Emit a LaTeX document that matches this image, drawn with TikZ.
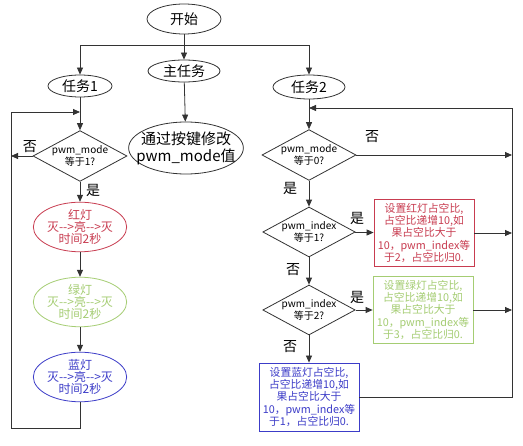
\documentclass[tikz,border=0pt]{standalone}
\usepackage{fontspec}
\setmainfont{Noto Sans CJK SC}
\usetikzlibrary{shapes.geometric,arrows.meta}
\definecolor{lampred}{RGB}{200,60,80}
\definecolor{lampgreen}{RGB}{165,205,115}
\definecolor{lampblue}{RGB}{60,60,200}
\begin{document}
\begin{tikzpicture}[x=1pt,y=-1pt,
    term/.style={ellipse,draw,inner sep=0pt,align=center,font=\fontsize{14}{15}\selectfont},
    cond/.style={diamond,draw,aspect=1.85,inner sep=0pt,minimum width=90pt,minimum height=49pt,align=center,font=\fontsize{10}{10.5}\selectfont},
    lamp/.style={ellipse,draw=#1,text=#1,inner sep=0pt,minimum width=92pt,minimum height=44pt,align=center,font=\fontsize{12}{12}\selectfont},
    act/.style={rectangle,draw=#1,text=#1,inner sep=0pt,minimum width=100pt,minimum height=67pt,align=center,font=\fontsize{10.8}{12.3}\selectfont},
    lbl/.style={font=\fontsize{14}{14}\selectfont},
    flow/.style={-{Triangle[length=7pt,width=6pt]}},
    line width=0.8pt, draw=black!80
]
    \useasboundingbox[fill=white] (0,0) rectangle (523,446);

    % Start and the three tasks
    \node[term,minimum width=74pt,minimum height=30pt] (start) at (184,19) {开始};
    \coordinate (split) at (184,45);
    \node[term,minimum width=64pt,minimum height=22pt] (task1) at (80,86) {任务1};
    \node[term,minimum width=72pt,minimum height=22pt] (main) at (184,71) {主任务};
    \node[term,minimum width=72pt,minimum height=24pt] (task2) at (309,87) {任务2};
    \draw (start) -- (split);
    \draw[flow] (split) -| (task1);
    \draw[flow] (split) -- (main);
    \draw[flow] (split) -| (task2);

    % Main task
    \node[term,inner xsep=-9pt,inner ysep=0pt,minimum width=103pt,minimum height=52pt,font=\fontsize{15}{17}\selectfont] (modify) at (186,148) {通过按键修改\\pwm\_mode值};
    \draw[flow] (main) -- (modify);

    % Task 1
    \begin{scope}
        \node[cond] (mode1) at (80,156) {pwm\_mode\\等于1?};
        \node[lamp=lampred] (red) at (80,227) {红灯\\灭-{}->亮-{}->灭\\时间2秒};
        \node[lamp=lampgreen] (green) at (80,302) {绿灯\\灭-{}->亮-{}->灭\\时间2秒};
        \node[lamp=lampblue] (blue) at (80,377) {蓝灯\\灭-{}->亮-{}->灭\\时间2秒};
        \coordinate (lp1) at (80,428);
        \coordinate (lp2) at (11,428);
        \coordinate (lp3) at (11,112);
        \coordinate (lin) at (80,112);
        \draw[flow] (task1) -- (mode1);
        \draw[flow] (mode1) -- (red);
        \draw[flow] (red) -- (green);
        \draw[flow] (green) -- (blue);
        \draw[flow] (blue) -- (lp1) -- (lp2) -- (lp3) -- (lin);
        \draw[flow] (mode1) -- (mode1 -| lp3);
        \node[lbl] (no1) at (30,147) {否};
        \node[lbl] (yes1) at (93,190) {是};
    \end{scope}

    % Task 2
    \begin{scope}
        \node[cond] (mode0) at (309,155) {pwm\_mode\\等于0?};
        \node[cond] (idx1) at (309,232) {pwm\_index\\等于1?};
        \node[cond] (idx2) at (309,310) {pwm\_index\\等于2?};
        \node[act=lampred] (setred) at (424,233) {设置红灯占空比,\\占空比递增10,如\\果占空比大于\\10，pwm\_index等\\于2，占空比归0.};
        \node[act=lampgreen] (setgreen) at (423,310) {设置绿灯占空比,\\占空比递增10,如\\果占空比大于\\10，pwm\_index等\\于3，占空比归0.};
        \node[act=lampblue,minimum height=68pt] (setblue) at (309,397) {设置蓝灯占空比,\\占空比递增10,如\\果占空比大于\\10，pwm\_index等\\于1，占空比归0.};
        \coordinate (r1) at (512,397);
        \coordinate (r2) at (512,108);
        \coordinate (rin) at (309,108);
        \draw[flow] (task2) -- (mode0);
        \draw[flow] (mode0) -- (idx1);
        \draw[flow] (idx1) -- (idx2);
        \draw[flow] (idx2) -- (setblue);
        \draw[flow] (idx1) -- (setred);
        \draw[flow] (idx2) -- (setgreen);
        \draw[flow] (mode0) -- (mode0 -| r2);
        \draw[flow] (setred) -- (setred -| r2);
        \draw[flow] (setgreen) -- (setgreen -| r2);
        \draw[flow] (setblue) -- (r1) -- (r2) -- (rin);
        \node[lbl] (no2) at (372,137) {否};
        \node[lbl] (yes2) at (290,188) {是};
        \node[lbl] (yes3) at (357,218) {是};
        \node[lbl] (no3) at (293,270) {否};
        \node[lbl] (yes4) at (357,297) {是};
        \node[lbl] (no4) at (290,347) {否};
    \end{scope}
\end{tikzpicture}
\end{document}
